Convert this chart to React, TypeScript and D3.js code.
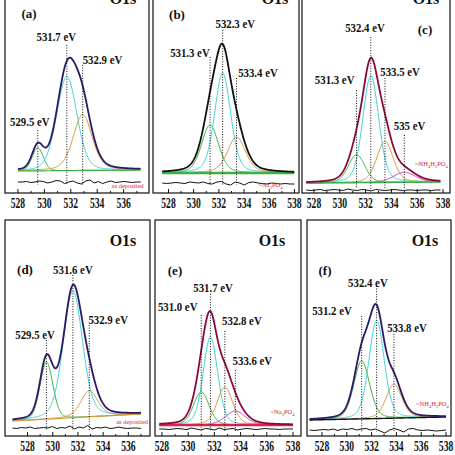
import React, { useRef, useEffect } from "react";
import * as d3 from "d3";

// binding energy axis (eV)
const energyTicks = [528, 529, 530, 531, 532, 533, 534, 535, 536, 537, 538];
const energyLabels = [528, 530, 532, 534, 536, 538];

const panelTags = ["(a)", "(b)", "(c)", "(d)", "(e)", "(f)"];
const sampleNotes = ["as deposited", "~Na|3|PO|4", "~NH|4|H|2|PO|4", "as deposited", "~Na|3|PO|4", "~NH|4|H|2|PO|4"];

// fitted O1s components: [centre eV, height a.u., FWHM eV, Lorentzian fraction]
const peaksA = [
  [529.5, 23, 1.0, 0.1],
  [531.7, 94, 1.8, 0.2],
  [532.9, 56, 1.7, 0.35],
];
const peaksB = [
  [531.3, 48, 1.6, 0.3],
  [532.3, 100, 1.5, 0.3],
  [533.4, 36, 1.7, 0.4],
];
const peaksC = [
  [531.3, 28, 1.5, 0.2],
  [532.4, 107, 1.45, 0.25],
  [533.5, 41, 1.5, 0.3],
  [535.0, 10, 2.0, 0.3],
];
const peaksD = [
  [529.5, 57, 1.2, 0.15],
  [531.6, 127, 1.8, 0.25],
  [532.9, 26, 1.6, 0.35],
];
const peaksE = [
  [531.0, 33, 1.4, 0.2],
  [531.7, 88, 1.3, 0.25],
  [532.8, 38, 1.4, 0.3],
  [533.6, 14, 1.8, 0.3],
];
const peaksF = [
  [531.2, 58, 1.5, 0.25],
  [532.4, 98, 1.45, 0.25],
  [533.8, 34, 1.5, 0.3],
];

const peakTextA = ["529.5 eV", "531.7 eV", "532.9 eV"];
const peakTextB = ["531.3 eV", "532.3 eV", "533.4 eV"];
const peakTextC = ["531.3 eV", "532.4 eV", "533.5 eV", "535 eV"];
const peakTextD = ["529.5 eV", "531.6 eV", "532.9 eV"];
const peakTextE = ["531.0 eV", "531.7 eV", "532.8 eV", "533.6 eV"];
const peakTextF = ["531.2 eV", "532.4 eV", "533.8 eV"];

// measured energy range and linear background at its two ends
const spanA = [528, 537.3];
const spanB = [527.5, 538];
const spanC = [527.4, 537.8];
const spanD = [526.8, 537.0];
const spanE = [527.8, 538.0];
const spanF = [527.0, 538.0];
const bgA = [0, 1];
const bgB = [0, 0];
const bgC = [0, 1];
const bgD = [0, 7];
const bgE = [0, 0];
const bgF = [0, 3];

// fit residuals, evenly spaced over the measured range
const residualA = [-11, -11, -10.5, -11.5, -11, -10, -10.5, -12, -11, -9.5, -10, -12.5, -11, -10, -12, -13, -10, -9, -12, -10.5, -12.5, -11, -10, -11.5, -11, -10.5, -11, -11.5, -11, -11];
const residualB = [-10, -10.5, -10, -9.5, -10, -10.5, -9, -9.5, -10, -9, -10.5, -11, -9, -8.5, -11, -12, -9, -10, -12, -9.5, -9, -10, -10.5, -11, -10, -10.5, -11, -10.5, -11, -11];
const residualC = [-7, -7.5, -7, -6.5, -7.5, -7, -6.5, -7, -7.5, -6, -7, -7.5, -6.5, -7, -8, -6.5, -7, -7.5, -7, -6.5, -7, -7.5, -7, -7, -7.5, -7, -7, -7.5, -7, -7];
const residualD = [-7, -7.5, -6.5, -7, -6, -7.5, -7, -6.5, -7, -5.5, -7.5, -6.5, -7, -5, -8, -6, -7, -4.5, -8, -6.5, -7, -6, -7.5, -7, -6, -7, -7.5, -7, -7, -7.5];
const residualE = [-4, -4, -4.5, -4, -3.5, -4, -4.5, -3, -4, -5, -3.5, -4, -5, -3, -4.5, -4, -3.5, -5, -4, -3.5, -4, -4.5, -4, -3.5, -4, -4, -4.5, -4, -4, -4];
const residualF = [-10, -10.5, -10, -9.5, -10, -9, -10.5, -9, -9.5, -8.5, -10, -9, -8.5, -10, -9, -11, -13, -10, -8.5, -10, -12, -9, -8.5, -10, -10.5, -10, -10.5, -11, -10.5, -10];

const series = [
  { peaks: peaksA, text: peakTextA, span: spanA, bg: bgA, residual: residualA },
  { peaks: peaksB, text: peakTextB, span: spanB, bg: bgB, residual: residualB },
  { peaks: peaksC, text: peakTextC, span: spanC, bg: bgC, residual: residualC },
  { peaks: peaksD, text: peakTextD, span: spanD, bg: bgD, residual: residualD },
  { peaks: peaksE, text: peakTextE, span: spanE, bg: bgE, residual: residualE },
  { peaks: peaksF, text: peakTextF, span: spanF, bg: bgF, residual: residualF },
];

// ---- layout and styles ----
const rows = [
  { top: -22, bottom: 193 },
  { top: 220, bottom: 436 },
];

const componentColors = ["#3cb043", "#3fd6d6", "#d29a3c", "#c23cc2"];
const serif = "'Liberation Serif', 'Times New Roman', serif";

const layout = [
  {
    row: 0, frame: [5, 149], energy: [527.02, 537.92], intensity: [-22, 193],
    envColor: "#2d1868", baseColor: "#3cb043", baseWidth: 1.2,
    dotTop: [41, 126, 106], dotBottom: -14,
    labelAt: [[528.9, 45], [530.9, 130], [534.4, 107]],
    tagAt: [29, 18], noteAt: [536.3, -17], o1sX: 123,
  },
  {
    row: 0, frame: [153, 299], energy: [526.77, 538.36], intensity: [-20, 195],
    envColor: "#111111", baseColor: "#3cb043", baseWidth: 2.5,
    dotTop: [116, 143, 95], dotBottom: -12,
    labelAt: [[529.7, 116], [533.3, 145], [535.1, 96]],
    tagAt: [177, 19], noteAt: [536.1, -14], o1sX: 275,
  },
  {
    row: 0, frame: [302, 450], energy: [527.07, 538.54], intensity: [-10, 205],
    envColor: "#8a0a3a", baseColor: "#3cb043", baseWidth: 1.5,
    dotTop: [93, 146, 105, 48], dotBottom: -6,
    labelAt: [[529.6, 99], [531.95, 151], [534.67, 107], [535.4, 53]],
    tagAt: [425, 34], noteAt: [537.1, 17], o1sX: 426,
  },
  {
    row: 1, frame: [5, 150], energy: [526.21, 537.72], intensity: [-15, 201],
    envColor: "#2d1868", baseColor: "#d29a3c", baseWidth: 1.2,
    dotTop: [81, 146, 96], dotBottom: -10,
    labelAt: [[528.6, 82], [531.6, 147], [534.4, 97]],
    tagAt: [25, 274], noteAt: [536.3, -3], o1sX: 123,
  },
  {
    row: 1, frame: [155, 301], energy: [527.47, 538.61], intensity: [-11, 205],
    envColor: "#8a0a3a", baseColor: "#e0204a", baseWidth: 2.5,
    dotTop: [110, 131, 94, 55], dotBottom: -6,
    labelAt: [[529.2, 114], [531.9, 133], [534.1, 100], [534.9, 60]],
    tagAt: [175, 275], noteAt: [537.2, 11], o1sX: 272,
  },
  {
    row: 1, frame: [307, 451], energy: [526.79, 538.4], intensity: [-16, 200],
    envColor: "#2d1868", baseColor: "#111111", baseWidth: 1.4,
    dotTop: [104, 134, 86], dotBottom: -12,
    labelAt: [[528.8, 105], [531.7, 133], [534.85, 88]],
    tagAt: [325, 275], noteAt: [536.9, 14], o1sX: 425,
  },
];

// pseudo-Voigt line shape
const pseudoVoigt = (e: number, p: number[]) => {
  const [c, h, w, eta] = p;
  const t = (e - c) / w;
  return h * ((1 - eta) * Math.exp(-4 * Math.LN2 * t * t) + eta / (1 + 4 * t * t));
};

const drawPanel = (svg: any, i: number) => {
  const s = series[i];
  const L = layout[i];
  const row = rows[L.row];

  const x = d3.scaleLinear().domain(L.energy).range(L.frame);
  const y = d3.scaleLinear().domain(L.intensity).range([row.bottom, row.top]);

  const background = (e: number) =>
    s.bg[0] + ((s.bg[1] - s.bg[0]) * (e - s.span[0])) / (s.span[1] - s.span[0]);
  const grid = d3.range(s.span[0], s.span[1] + 1e-6, 0.04);

  const clipId = `clip-${i}`;
  svg.append("clipPath").attr("id", clipId)
    .append("rect")
    .attr("x", L.frame[0]).attr("y", row.top)
    .attr("width", L.frame[1] - L.frame[0]).attr("height", row.bottom - row.top);

  const g = svg.append("g").attr("clip-path", `url(#${clipId})`);
  const line = d3.line<number>().x((e) => x(e));

  // components
  s.peaks.forEach((p, k) => {
    g.append("path")
      .attr("d", line.y((e) => y(background(e) + pseudoVoigt(e, p)))(grid))
      .attr("fill", "none")
      .attr("stroke", componentColors[k])
      .attr("stroke-width", 1);
  });

  // background
  g.append("path")
    .attr("d", line.y((e) => y(background(e)))(grid))
    .attr("fill", "none")
    .attr("stroke", L.baseColor)
    .attr("stroke-width", L.baseWidth);

  // envelope
  g.append("path")
    .attr("d", line.y((e) => y(background(e) + d3.sum(s.peaks, (p) => pseudoVoigt(e, p))))(grid))
    .attr("fill", "none")
    .attr("stroke", L.envColor)
    .attr("stroke-width", 1.8);

  // residual
  const resStep = (s.span[1] - s.span[0]) / (s.residual.length - 1);
  g.append("path")
    .attr("d", d3.line<number>()
      .x((_, k) => x(s.span[0] + k * resStep))
      .y((r) => y(r))(s.residual))
    .attr("fill", "none")
    .attr("stroke", "#111")
    .attr("stroke-width", 1);

  // peak markers
  s.peaks.forEach((p, k) => {
    g.append("line")
      .attr("x1", x(p[0])).attr("x2", x(p[0]))
      .attr("y1", y(L.dotTop[k])).attr("y2", y(L.dotBottom))
      .attr("stroke", "#111")
      .attr("stroke-width", 1)
      .attr("stroke-dasharray", "1,1.6");
  });

  s.text.forEach((t, k) => {
    const [e, v] = L.labelAt[k];
    svg.append("text")
      .attr("transform", `translate(${x(e)},${y(v)}) scale(0.9,1)`)
      .attr("text-anchor", "middle")
      .attr("font-family", serif)
      .attr("font-weight", "bold")
      .attr("font-size", 12)
      .attr("fill", "#111")
      .text(t);
  });

  // frame
  svg.append("rect")
    .attr("x", L.frame[0]).attr("y", row.top)
    .attr("width", L.frame[1] - L.frame[0]).attr("height", row.bottom - row.top)
    .attr("fill", "none")
    .attr("stroke", "#111")
    .attr("stroke-width", 1.2);

  // ticks
  energyTicks
    .filter((e) => x(e) > L.frame[0] + 1 && x(e) < L.frame[1] - 1)
    .forEach((e) => {
      svg.append("line")
        .attr("x1", x(e)).attr("x2", x(e))
        .attr("y1", row.bottom).attr("y2", row.bottom - (e % 2 === 0 ? 4 : 2))
        .attr("stroke", "#111");
    });

  energyLabels
    .filter((e) => x(e) > L.frame[0] && x(e) < L.frame[1])
    .forEach((e) => {
      svg.append("text")
        .attr("transform", `translate(${x(e)},${row.bottom + 15}) scale(0.64,1)`)
        .attr("text-anchor", "middle")
        .attr("font-family", serif)
        .attr("font-weight", "bold")
        .attr("font-size", 15)
        .attr("fill", "#111")
        .text(e);
    });

  // titles
  svg.append("text")
    .attr("x", L.o1sX).attr("y", row.top + 26)
    .attr("text-anchor", "middle")
    .attr("font-family", serif)
    .attr("font-weight", "bold")
    .attr("font-size", 16)
    .attr("fill", "#111")
    .text("O1s");

  svg.append("text")
    .attr("x", L.tagAt[0]).attr("y", L.tagAt[1])
    .attr("text-anchor", "middle")
    .attr("font-family", serif)
    .attr("font-weight", "bold")
    .attr("font-size", 13)
    .attr("fill", "#111")
    .text(panelTags[i]);

  // sample note with subscripts
  const note = svg.append("text")
    .attr("x", x(L.noteAt[0])).attr("y", y(L.noteAt[1]))
    .attr("text-anchor", "middle")
    .attr("font-family", serif)
    .attr("font-size", 6.5)
    .attr("fill", "#d8203a");
  sampleNotes[i].split("|").forEach((part, k) => {
    note.append("tspan")
      .attr("dy", k === 0 ? 0 : k % 2 === 1 ? 1.5 : -1.5)
      .attr("font-size", k % 2 === 1 ? 4.5 : 6.5)
      .text(part);
  });
};

const App = () => {
  const ref = useRef<SVGSVGElement>(null);

  useEffect(() => {
    const svg = d3.select(ref.current);
    svg.selectAll("*").remove();
    svg.append("rect").attr("width", 455).attr("height", 455).attr("fill", "#fff");
    series.forEach((_, i) => drawPanel(svg, i));
  }, []);

  return (
    <svg
      ref={ref}
      width={455}
      height={455}
      style={{ position: "absolute", left: 0, top: 0 }}
    />
  );
};

export default App;
